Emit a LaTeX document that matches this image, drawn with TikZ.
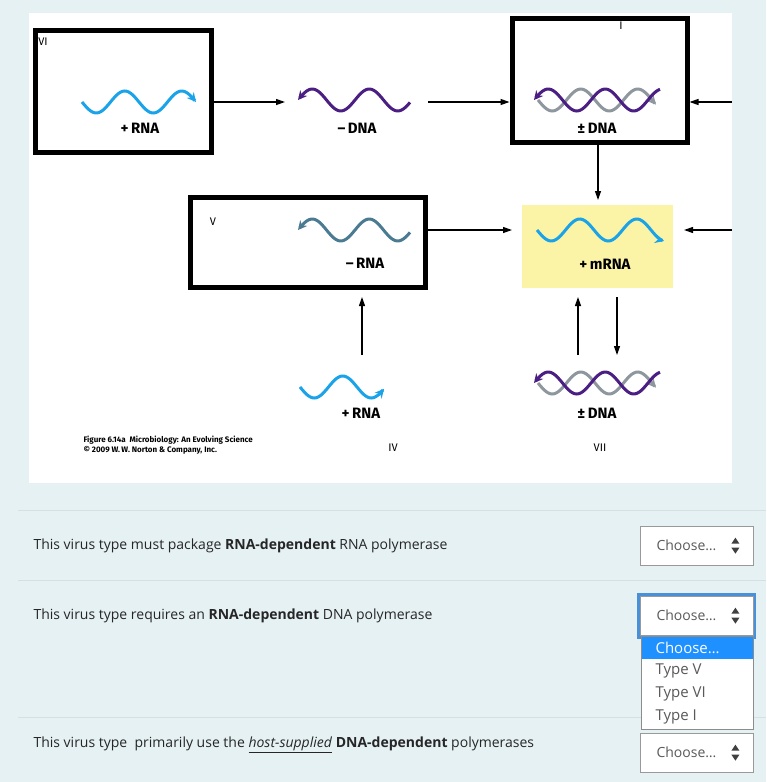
\documentclass[tikz,border=0pt]{standalone}
\usepackage{fontspec}
\setmainfont{Open Sans}
\newfontfamily\figfont{Fira Sans}
\usetikzlibrary{arrows.meta}
\definecolor{pagebg}{HTML}{E6F1F4}
\definecolor{rnablue}{HTML}{1AA3E8}
\definecolor{dnapurple}{HTML}{4A1E82}
\definecolor{dnagray}{HTML}{8E979E}
\definecolor{slate}{HTML}{4B7B93}
\definecolor{mrnayellow}{HTML}{FBF3A6}
\definecolor{rulegray}{HTML}{D5E0E4}
\definecolor{selblue}{HTML}{4A90D9}
\definecolor{hiblue}{HTML}{1E90FF}
\newcommand{\strand}[6]{% x0, x1, yc, colour, arrow, phase
  \draw[#4, line width=3pt, #5, samples=60, smooth]
    plot[domain=#1:#2] (\x, {#3 - 11*sin(6.3158*(\x-#1) + #6)});}
\begin{document}
\begin{tikzpicture}[x=1pt, y=-1pt]
    \tikzset{frame/.style={draw, line width=5pt, minimum width=#1, anchor=north west}}
    \tikzset{lab/.style={font=\figfont\bfseries\fontsize{15}{17}\selectfont}}
    \tikzset{roman/.style={font=\figfont\fontsize{11}{12}\selectfont}}
    \tikzset{flow/.style={-{Triangle[length=9pt, width=6pt]}, line width=1.2pt}}
    \tikzset{web/.style={font=\fontsize{14}{16}\selectfont, anchor=west, text=black!85}}
    \tikzset{select/.style={draw=gray!80, fill=white, minimum width=113pt,
      minimum height=39pt, anchor=north west}}

    % Page and figure panel
    \path[fill=pagebg] (0,0) rectangle (766,782);
    \useasboundingbox (0,0) rectangle (766,782);
    \path[fill=white] (29,13) rectangle (732,483);

    % Boxes
    \node[frame=176pt, minimum height=122pt] (boxVI) at (32.5,27.5) {};
    \node[frame=175pt, minimum height=124pt] (boxI) at (509.5,15.5) {};
    \node[frame=235pt, minimum height=90pt] (boxV) at (187.5,194.5) {};
    \node[fill=mrnayellow, minimum width=151pt, minimum height=83pt,
          anchor=north west] (mrna) at (522,205) {};

    % Roman numerals
    \node[roman] (nVI) at (43,42) {VI};
    \node[roman] (nI) at (621,26) {I};
    \node[roman] (nV) at (213,222) {V};
    \node[roman] (nIV) at (393,448) {IV};
    \node[roman] (nVII) at (600,448) {VII};

    % Strands
    \strand{82}{196}{102}{rnablue}{-{Stealth[length=9pt,width=9pt]}}{180}
    \strand{298}{410}{100}{dnapurple}{{Stealth[length=9pt,width=9pt]}-}{0}
    \strand{538}{656}{100}{dnagray}{-{Stealth[length=9pt,width=9pt]}}{180}
    \strand{534}{660}{100}{dnapurple}{{Stealth[length=9pt,width=9pt]}-}{0}
    \strand{298}{410}{230}{slate}{{Stealth[length=9pt,width=9pt]}-}{0}
    \strand{537}{664}{230}{rnablue}{-{Stealth[length=9pt,width=9pt]}}{180}
    \strand{300}{384}{387}{rnablue}{-{Stealth[length=9pt,width=9pt]}}{180}
    \strand{538}{656}{383}{dnagray}{-{Stealth[length=9pt,width=9pt]}}{180}
    \strand{534}{660}{383}{dnapurple}{{Stealth[length=9pt,width=9pt]}-}{0}

    % Strand labels
    \node[lab] (tVI) at (140,128) {+\,RNA};
    \node[lab] (tminus) at (357,128) {–\,DNA};
    \node[lab] (tI) at (597,128) {±\,DNA};
    \node[lab] (tV) at (365,263) {–\,RNA};
    \node[lab] (tmrna) at (605,264) {+\,mRNA};
    \node[lab] (tIV) at (361,413) {+\,RNA};
    \node[lab] (tVII) at (597,413) {±\,DNA};

    % Caption
    \node[font=\figfont\bfseries\fontsize{8}{10}\selectfont, anchor=west,
          align=left] (cap) at (80,445)
      {Figure 6.14a\ \ Microbiology: An Evolving Science\\
       © 2009 W.\,W. Norton \& Company, Inc.};

    % Anchors for free ends
    \coordinate (minusL) at (285,102);
    \coordinate (minusR) at (428,102);
    \coordinate (edgeI) at (732,102);
    \coordinate (edgeM) at (732,230);
    \coordinate (upIV) at (362,355);
    \coordinate (upVII) at (578,355);
    \coordinate (dnVII) at (617,355);

    % Arrows
    \draw[flow] (boxVI.east |- minusL) -- (minusL);
    \draw[flow] (minusR) -- (boxI.west |- minusR);
    \draw[flow] (edgeI) -- (boxI.east |- edgeI);
    \draw[flow] (598,145) -- (598,200);
    \draw[flow] (boxV.east |- edgeM) -- (512,230);
    \draw[flow] (edgeM) -- (684,230);
    \draw[flow] (upIV) -- (362,297);
    \draw[flow] (upVII) -- (578,297);
    \draw[flow] (617,297) -- (dnVII);

    % Question rows
    \foreach \y in {510,580,717}
      \draw[rulegray, line width=1pt] (18,\y) -- (766,\y);
    \node[web] (q1) at (30,546)
      {This virus type must package \textbf{RNA-dependent} RNA polymerase};
    \node[web] (q2) at (30,616)
      {This virus type requires an \textbf{RNA-dependent} DNA polymerase};
    \node[web] (q3) at (30,745)
      {This virus type\ \ primarily use the \underline{\textit{host-supplied}}
       \textbf{DNA-dependent} polymerases};

    % Selects
    \draw[selblue, line width=3pt] (638.5,594.5) rectangle (754.5,637.5);
    \foreach \n/\y in {s1/526, s2/596, s3/733} {
      \node[select] (\n) at (640,\y) {};
      \node[web, text=black!65] at ([xshift=13pt]\n.west) {Choose…};
      \fill[black!75] ([xshift=-22pt,yshift=2pt]\n.east) -- ++(8,0) -- ++(-4,-6) -- cycle;
      \fill[black!75] ([xshift=-22pt,yshift=-2pt]\n.east) -- ++(8,0) -- ++(-4,6) -- cycle;
    }

    % Dropdown list
    \node[draw=gray!90, fill=white, minimum width=112pt, minimum height=93pt,
          anchor=north west] (menu) at (641,636) {};
    \path[fill=hiblue] (641.5,637) rectangle (752.5,659);
    \node[web, text=white, font=\fontsize{15}{17}\selectfont] (o0) at (652,648) {Choose…};
    \foreach \t/\y in {Type V/671, Type VI/694, Type I/717}
      \node[web, text=black!65, font=\fontsize{15}{17}\selectfont] at (652,\y) {\t};
\end{tikzpicture}
\end{document}
